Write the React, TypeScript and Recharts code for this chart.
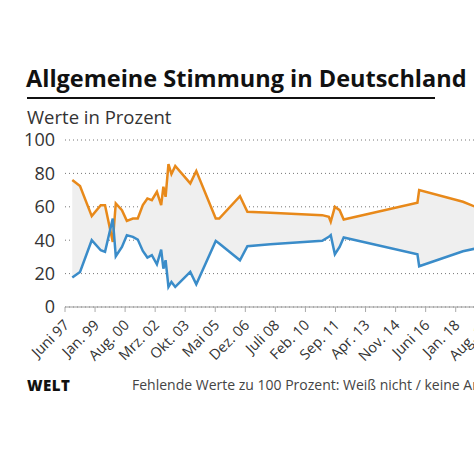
import React from 'react';
import { ComposedChart, Line, Area, XAxis, YAxis, CartesianGrid } from 'recharts';

// months since June 1997
const months = [4.6, 9.5, 16.9, 22.6, 25.3, 30.2, 32.1, 36, 39.1, 42.9, 46, 49.2, 52.1, 54.9, 58.1, 60.8, 62.2, 63.6, 65.4, 67.3, 69.7, 79.2, 83, 95.3, 97.5, 110.6, 115.3, 129.8, 162.6, 166.8, 168, 170.6, 173.6, 176.2, 222.8, 223.9, 251.6, 262];
const positiv = [76, 72.4, 54.4, 61, 61, 39, 62, 58, 51.6, 53, 53, 61, 65, 64, 69, 61, 72, 66, 85.6, 79.6, 84.4, 74, 81.4, 53, 53, 66.4, 57, 56.4, 55, 54, 51, 60, 58, 52.4, 62.4, 70, 63, 59];
const negativ = [17.6, 21, 40, 34, 33, 53, 30.4, 36, 43, 42, 40.4, 33.6, 29.6, 31, 25.6, 34.4, 23, 28, 12, 15, 12, 21, 13.6, 39.6, 38, 28, 36.4, 37.6, 39.6, 42, 43, 31.6, 36, 41.6, 31.6, 24.4, 33.4, 35.5];

const tickMonths = [0, 19, 38, 57, 76, 95, 114, 133, 152, 171, 190, 209, 228, 247, 266];
const tickLabels = ['Juni 97', 'Jan. 99', 'Aug. 00', 'Mrz. 02', 'Okt. 03', 'Mai 05', 'Dez. 06', 'Juli 08', 'Feb. 10', 'Sep. 11', 'Apr. 13', 'Nov. 14', 'Juni 16', 'Jan. 18', 'Aug. 19'];
const yTicks = [0, 20, 40, 60, 80, 100];

const ORANGE = '#e8891a';
const BLUE = '#3a8cc9';
const FONT = '"Open Sans", sans-serif';

const data = months.map((m, i) => ({
  m,
  positiv: positiv[i],
  negativ: negativ[i],
  band: [negativ[i], positiv[i]],
}));

const XTick = (props: any) => {
  const { x, y, payload } = props;
  const i = tickMonths.indexOf(payload.value);
  const tx = x + 5;
  const ty = y + 12;
  return (
    <text x={tx} y={ty} transform={`rotate(-45, ${tx}, ${ty})`} textAnchor="end" fontSize={14.5} fill="#333" fontFamily={FONT}>
      {tickLabels[i]}
    </text>
  );
};

export default function App() {
  return (
    <div style={{ position: 'fixed', left: 0, top: 0, width: 474, height: 463, overflow: 'hidden', background: '#fff', fontFamily: FONT }}>
      <div style={{ position: 'absolute', left: 26, top: 62, fontSize: 23.5, fontWeight: 700, color: '#111', whiteSpace: 'nowrap' }}>
        Allgemeine Stimmung in Deutschland
      </div>
      <div style={{ position: 'absolute', left: 27, top: 97, width: 408, height: 2, background: '#111' }} />
      <div style={{ position: 'absolute', left: 27, top: 104, fontSize: 18.5, color: '#333', whiteSpace: 'nowrap' }}>
        Werte in Prozent
      </div>
      <div style={{ position: 'absolute', left: 0, top: 0 }}>
        <ComposedChart width={520} height={463} data={data} margin={{ top: 140, right: 20, bottom: 96, left: 20 }}>
          <CartesianGrid horizontal vertical={false} stroke="#777" strokeDasharray="1 3" />
          <XAxis
            dataKey="m"
            type="number"
            domain={[0, 275]}
            ticks={tickMonths}
            interval={0}
            height={60}
            stroke="#999"
            tickLine={{ stroke: '#aaa' }}
            tickSize={5}
            tick={<XTick />}
          />
          <YAxis
            domain={[0, 100]}
            ticks={yTicks}
            width={45}
            axisLine={false}
            tickLine={false}
            tickSize={0}
            tickMargin={10}
            tick={{ fontSize: 18, fill: '#333', fontFamily: FONT }}
          />
          <Area dataKey="band" type="linear" fill="#efefef" fillOpacity={1} stroke="none" isAnimationActive={false} />
          <Line dataKey="positiv" type="linear" stroke={ORANGE} strokeWidth={2.5} dot={false} isAnimationActive={false} />
          <Line dataKey="negativ" type="linear" stroke={BLUE} strokeWidth={2.5} dot={false} isAnimationActive={false} />
        </ComposedChart>
      </div>
      <div style={{ position: 'absolute', left: 27, top: 375, fontSize: 15, fontWeight: 900, color: '#111', letterSpacing: 0.5 }}>
        WELT
      </div>
      <div style={{ position: 'absolute', left: 132, top: 375, fontSize: 14, color: '#444', whiteSpace: 'nowrap' }}>
        Fehlende Werte zu 100 Prozent: Weiß nicht / keine Angabe
      </div>
    </div>
  );
}
